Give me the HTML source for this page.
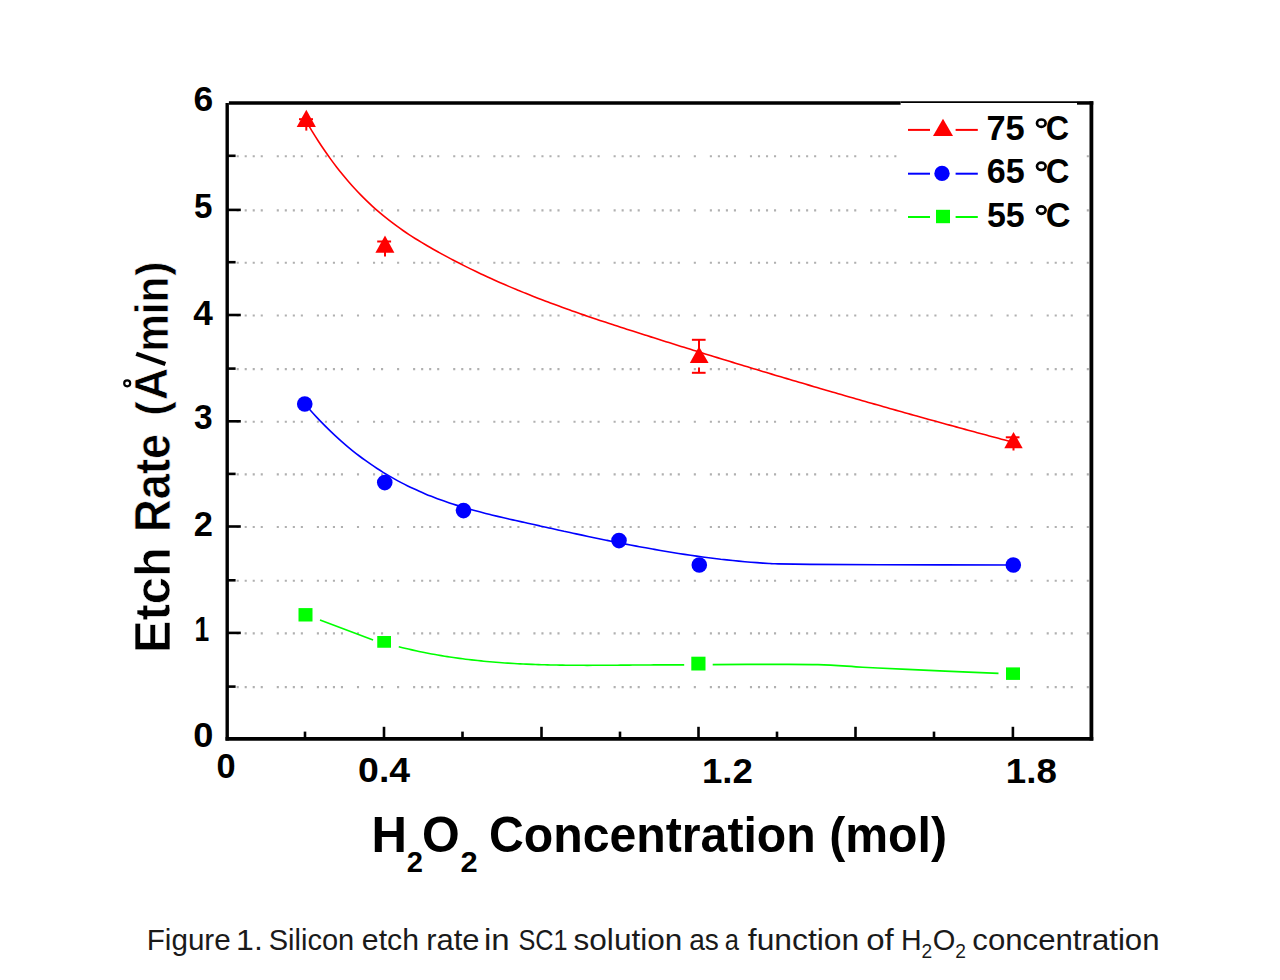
<!DOCTYPE html>
<html>
<head>
<meta charset="utf-8">
<style>
html,body{margin:0;padding:0;background:#fff;width:1280px;height:980px;overflow:hidden;}
svg{position:absolute;left:0;top:0;display:block;}
text{font-family:"Liberation Sans", sans-serif;}
</style>
</head>
<body>
<svg width="1280" height="980" viewBox="0 0 1280 980">

<path fill="#b0b0b0" d="M236.65 155.25h2.1v2.1h-2.1zM244.67 155.25h2.1v2.1h-2.1zM252.69 155.25h2.1v2.1h-2.1zM260.71 155.25h2.1v2.1h-2.1zM276.75 155.25h2.1v2.1h-2.1zM284.77 155.25h2.1v2.1h-2.1zM292.79 155.25h2.1v2.1h-2.1zM300.81 155.25h2.1v2.1h-2.1zM316.85 155.25h2.1v2.1h-2.1zM324.87 155.25h2.1v2.1h-2.1zM332.89 155.25h2.1v2.1h-2.1zM340.91 155.25h2.1v2.1h-2.1zM356.95 155.25h2.1v2.1h-2.1zM372.99 155.25h2.1v2.1h-2.1zM381.01 155.25h2.1v2.1h-2.1zM397.05 155.25h2.1v2.1h-2.1zM413.09 155.25h2.1v2.1h-2.1zM421.11 155.25h2.1v2.1h-2.1zM429.13 155.25h2.1v2.1h-2.1zM437.15 155.25h2.1v2.1h-2.1zM453.19 155.25h2.1v2.1h-2.1zM461.21 155.25h2.1v2.1h-2.1zM469.23 155.25h2.1v2.1h-2.1zM477.25 155.25h2.1v2.1h-2.1zM493.29 155.25h2.1v2.1h-2.1zM501.31 155.25h2.1v2.1h-2.1zM509.33 155.25h2.1v2.1h-2.1zM517.35 155.25h2.1v2.1h-2.1zM533.39 155.25h2.1v2.1h-2.1zM541.41 155.25h2.1v2.1h-2.1zM549.43 155.25h2.1v2.1h-2.1zM557.45 155.25h2.1v2.1h-2.1zM573.49 155.25h2.1v2.1h-2.1zM581.51 155.25h2.1v2.1h-2.1zM589.53 155.25h2.1v2.1h-2.1zM597.55 155.25h2.1v2.1h-2.1zM613.59 155.25h2.1v2.1h-2.1zM621.61 155.25h2.1v2.1h-2.1zM629.63 155.25h2.1v2.1h-2.1zM637.65 155.25h2.1v2.1h-2.1zM653.69 155.25h2.1v2.1h-2.1zM661.71 155.25h2.1v2.1h-2.1zM669.73 155.25h2.1v2.1h-2.1zM677.75 155.25h2.1v2.1h-2.1zM693.79 155.25h2.1v2.1h-2.1zM709.83 155.25h2.1v2.1h-2.1zM717.85 155.25h2.1v2.1h-2.1zM725.87 155.25h2.1v2.1h-2.1zM733.89 155.25h2.1v2.1h-2.1zM749.93 155.25h2.1v2.1h-2.1zM757.95 155.25h2.1v2.1h-2.1zM765.97 155.25h2.1v2.1h-2.1zM773.99 155.25h2.1v2.1h-2.1zM790.03 155.25h2.1v2.1h-2.1zM798.05 155.25h2.1v2.1h-2.1zM806.07 155.25h2.1v2.1h-2.1zM814.09 155.25h2.1v2.1h-2.1zM830.13 155.25h2.1v2.1h-2.1zM838.15 155.25h2.1v2.1h-2.1zM846.17 155.25h2.1v2.1h-2.1zM854.19 155.25h2.1v2.1h-2.1zM870.23 155.25h2.1v2.1h-2.1zM878.25 155.25h2.1v2.1h-2.1zM886.27 155.25h2.1v2.1h-2.1zM894.29 155.25h2.1v2.1h-2.1zM1086.77 155.25h2.1v2.1h-2.1zM236.65 209.35h2.1v2.1h-2.1zM244.67 209.35h2.1v2.1h-2.1zM252.69 209.35h2.1v2.1h-2.1zM260.71 209.35h2.1v2.1h-2.1zM276.75 209.35h2.1v2.1h-2.1zM284.77 209.35h2.1v2.1h-2.1zM292.79 209.35h2.1v2.1h-2.1zM300.81 209.35h2.1v2.1h-2.1zM316.85 209.35h2.1v2.1h-2.1zM324.87 209.35h2.1v2.1h-2.1zM332.89 209.35h2.1v2.1h-2.1zM340.91 209.35h2.1v2.1h-2.1zM356.95 209.35h2.1v2.1h-2.1zM372.99 209.35h2.1v2.1h-2.1zM381.01 209.35h2.1v2.1h-2.1zM397.05 209.35h2.1v2.1h-2.1zM413.09 209.35h2.1v2.1h-2.1zM421.11 209.35h2.1v2.1h-2.1zM429.13 209.35h2.1v2.1h-2.1zM437.15 209.35h2.1v2.1h-2.1zM453.19 209.35h2.1v2.1h-2.1zM461.21 209.35h2.1v2.1h-2.1zM469.23 209.35h2.1v2.1h-2.1zM477.25 209.35h2.1v2.1h-2.1zM493.29 209.35h2.1v2.1h-2.1zM501.31 209.35h2.1v2.1h-2.1zM509.33 209.35h2.1v2.1h-2.1zM517.35 209.35h2.1v2.1h-2.1zM533.39 209.35h2.1v2.1h-2.1zM541.41 209.35h2.1v2.1h-2.1zM549.43 209.35h2.1v2.1h-2.1zM557.45 209.35h2.1v2.1h-2.1zM573.49 209.35h2.1v2.1h-2.1zM581.51 209.35h2.1v2.1h-2.1zM589.53 209.35h2.1v2.1h-2.1zM597.55 209.35h2.1v2.1h-2.1zM613.59 209.35h2.1v2.1h-2.1zM621.61 209.35h2.1v2.1h-2.1zM629.63 209.35h2.1v2.1h-2.1zM637.65 209.35h2.1v2.1h-2.1zM653.69 209.35h2.1v2.1h-2.1zM661.71 209.35h2.1v2.1h-2.1zM669.73 209.35h2.1v2.1h-2.1zM677.75 209.35h2.1v2.1h-2.1zM693.79 209.35h2.1v2.1h-2.1zM709.83 209.35h2.1v2.1h-2.1zM717.85 209.35h2.1v2.1h-2.1zM725.87 209.35h2.1v2.1h-2.1zM733.89 209.35h2.1v2.1h-2.1zM749.93 209.35h2.1v2.1h-2.1zM757.95 209.35h2.1v2.1h-2.1zM765.97 209.35h2.1v2.1h-2.1zM773.99 209.35h2.1v2.1h-2.1zM790.03 209.35h2.1v2.1h-2.1zM798.05 209.35h2.1v2.1h-2.1zM806.07 209.35h2.1v2.1h-2.1zM814.09 209.35h2.1v2.1h-2.1zM830.13 209.35h2.1v2.1h-2.1zM838.15 209.35h2.1v2.1h-2.1zM846.17 209.35h2.1v2.1h-2.1zM854.19 209.35h2.1v2.1h-2.1zM870.23 209.35h2.1v2.1h-2.1zM878.25 209.35h2.1v2.1h-2.1zM886.27 209.35h2.1v2.1h-2.1zM894.29 209.35h2.1v2.1h-2.1zM1086.77 209.35h2.1v2.1h-2.1zM236.65 261.65h2.1v2.1h-2.1zM244.67 261.65h2.1v2.1h-2.1zM252.69 261.65h2.1v2.1h-2.1zM260.71 261.65h2.1v2.1h-2.1zM276.75 261.65h2.1v2.1h-2.1zM284.77 261.65h2.1v2.1h-2.1zM292.79 261.65h2.1v2.1h-2.1zM300.81 261.65h2.1v2.1h-2.1zM316.85 261.65h2.1v2.1h-2.1zM324.87 261.65h2.1v2.1h-2.1zM332.89 261.65h2.1v2.1h-2.1zM340.91 261.65h2.1v2.1h-2.1zM356.95 261.65h2.1v2.1h-2.1zM372.99 261.65h2.1v2.1h-2.1zM381.01 261.65h2.1v2.1h-2.1zM397.05 261.65h2.1v2.1h-2.1zM413.09 261.65h2.1v2.1h-2.1zM421.11 261.65h2.1v2.1h-2.1zM429.13 261.65h2.1v2.1h-2.1zM437.15 261.65h2.1v2.1h-2.1zM453.19 261.65h2.1v2.1h-2.1zM461.21 261.65h2.1v2.1h-2.1zM469.23 261.65h2.1v2.1h-2.1zM477.25 261.65h2.1v2.1h-2.1zM493.29 261.65h2.1v2.1h-2.1zM501.31 261.65h2.1v2.1h-2.1zM509.33 261.65h2.1v2.1h-2.1zM517.35 261.65h2.1v2.1h-2.1zM533.39 261.65h2.1v2.1h-2.1zM541.41 261.65h2.1v2.1h-2.1zM549.43 261.65h2.1v2.1h-2.1zM557.45 261.65h2.1v2.1h-2.1zM573.49 261.65h2.1v2.1h-2.1zM581.51 261.65h2.1v2.1h-2.1zM589.53 261.65h2.1v2.1h-2.1zM597.55 261.65h2.1v2.1h-2.1zM613.59 261.65h2.1v2.1h-2.1zM621.61 261.65h2.1v2.1h-2.1zM629.63 261.65h2.1v2.1h-2.1zM637.65 261.65h2.1v2.1h-2.1zM653.69 261.65h2.1v2.1h-2.1zM661.71 261.65h2.1v2.1h-2.1zM669.73 261.65h2.1v2.1h-2.1zM677.75 261.65h2.1v2.1h-2.1zM693.79 261.65h2.1v2.1h-2.1zM709.83 261.65h2.1v2.1h-2.1zM717.85 261.65h2.1v2.1h-2.1zM725.87 261.65h2.1v2.1h-2.1zM733.89 261.65h2.1v2.1h-2.1zM749.93 261.65h2.1v2.1h-2.1zM757.95 261.65h2.1v2.1h-2.1zM765.97 261.65h2.1v2.1h-2.1zM773.99 261.65h2.1v2.1h-2.1zM790.03 261.65h2.1v2.1h-2.1zM798.05 261.65h2.1v2.1h-2.1zM806.07 261.65h2.1v2.1h-2.1zM814.09 261.65h2.1v2.1h-2.1zM830.13 261.65h2.1v2.1h-2.1zM838.15 261.65h2.1v2.1h-2.1zM846.17 261.65h2.1v2.1h-2.1zM854.19 261.65h2.1v2.1h-2.1zM870.23 261.65h2.1v2.1h-2.1zM878.25 261.65h2.1v2.1h-2.1zM886.27 261.65h2.1v2.1h-2.1zM894.29 261.65h2.1v2.1h-2.1zM910.33 261.65h2.1v2.1h-2.1zM918.35 261.65h2.1v2.1h-2.1zM926.37 261.65h2.1v2.1h-2.1zM934.39 261.65h2.1v2.1h-2.1zM950.43 261.65h2.1v2.1h-2.1zM958.45 261.65h2.1v2.1h-2.1zM966.47 261.65h2.1v2.1h-2.1zM974.49 261.65h2.1v2.1h-2.1zM990.53 261.65h2.1v2.1h-2.1zM1006.57 261.65h2.1v2.1h-2.1zM1014.59 261.65h2.1v2.1h-2.1zM1030.63 261.65h2.1v2.1h-2.1zM1046.67 261.65h2.1v2.1h-2.1zM1054.69 261.65h2.1v2.1h-2.1zM1062.71 261.65h2.1v2.1h-2.1zM1070.73 261.65h2.1v2.1h-2.1zM1086.77 261.65h2.1v2.1h-2.1zM236.65 314.45h2.1v2.1h-2.1zM244.67 314.45h2.1v2.1h-2.1zM252.69 314.45h2.1v2.1h-2.1zM260.71 314.45h2.1v2.1h-2.1zM276.75 314.45h2.1v2.1h-2.1zM284.77 314.45h2.1v2.1h-2.1zM292.79 314.45h2.1v2.1h-2.1zM300.81 314.45h2.1v2.1h-2.1zM316.85 314.45h2.1v2.1h-2.1zM324.87 314.45h2.1v2.1h-2.1zM332.89 314.45h2.1v2.1h-2.1zM340.91 314.45h2.1v2.1h-2.1zM356.95 314.45h2.1v2.1h-2.1zM372.99 314.45h2.1v2.1h-2.1zM381.01 314.45h2.1v2.1h-2.1zM397.05 314.45h2.1v2.1h-2.1zM413.09 314.45h2.1v2.1h-2.1zM421.11 314.45h2.1v2.1h-2.1zM429.13 314.45h2.1v2.1h-2.1zM437.15 314.45h2.1v2.1h-2.1zM453.19 314.45h2.1v2.1h-2.1zM461.21 314.45h2.1v2.1h-2.1zM469.23 314.45h2.1v2.1h-2.1zM477.25 314.45h2.1v2.1h-2.1zM493.29 314.45h2.1v2.1h-2.1zM501.31 314.45h2.1v2.1h-2.1zM509.33 314.45h2.1v2.1h-2.1zM517.35 314.45h2.1v2.1h-2.1zM533.39 314.45h2.1v2.1h-2.1zM541.41 314.45h2.1v2.1h-2.1zM549.43 314.45h2.1v2.1h-2.1zM557.45 314.45h2.1v2.1h-2.1zM573.49 314.45h2.1v2.1h-2.1zM581.51 314.45h2.1v2.1h-2.1zM589.53 314.45h2.1v2.1h-2.1zM597.55 314.45h2.1v2.1h-2.1zM613.59 314.45h2.1v2.1h-2.1zM621.61 314.45h2.1v2.1h-2.1zM629.63 314.45h2.1v2.1h-2.1zM637.65 314.45h2.1v2.1h-2.1zM653.69 314.45h2.1v2.1h-2.1zM661.71 314.45h2.1v2.1h-2.1zM669.73 314.45h2.1v2.1h-2.1zM677.75 314.45h2.1v2.1h-2.1zM693.79 314.45h2.1v2.1h-2.1zM709.83 314.45h2.1v2.1h-2.1zM717.85 314.45h2.1v2.1h-2.1zM725.87 314.45h2.1v2.1h-2.1zM733.89 314.45h2.1v2.1h-2.1zM749.93 314.45h2.1v2.1h-2.1zM757.95 314.45h2.1v2.1h-2.1zM765.97 314.45h2.1v2.1h-2.1zM773.99 314.45h2.1v2.1h-2.1zM790.03 314.45h2.1v2.1h-2.1zM798.05 314.45h2.1v2.1h-2.1zM806.07 314.45h2.1v2.1h-2.1zM814.09 314.45h2.1v2.1h-2.1zM830.13 314.45h2.1v2.1h-2.1zM838.15 314.45h2.1v2.1h-2.1zM846.17 314.45h2.1v2.1h-2.1zM854.19 314.45h2.1v2.1h-2.1zM870.23 314.45h2.1v2.1h-2.1zM878.25 314.45h2.1v2.1h-2.1zM886.27 314.45h2.1v2.1h-2.1zM894.29 314.45h2.1v2.1h-2.1zM910.33 314.45h2.1v2.1h-2.1zM918.35 314.45h2.1v2.1h-2.1zM926.37 314.45h2.1v2.1h-2.1zM934.39 314.45h2.1v2.1h-2.1zM950.43 314.45h2.1v2.1h-2.1zM958.45 314.45h2.1v2.1h-2.1zM966.47 314.45h2.1v2.1h-2.1zM974.49 314.45h2.1v2.1h-2.1zM990.53 314.45h2.1v2.1h-2.1zM1006.57 314.45h2.1v2.1h-2.1zM1014.59 314.45h2.1v2.1h-2.1zM1030.63 314.45h2.1v2.1h-2.1zM1046.67 314.45h2.1v2.1h-2.1zM1054.69 314.45h2.1v2.1h-2.1zM1062.71 314.45h2.1v2.1h-2.1zM1070.73 314.45h2.1v2.1h-2.1zM1086.77 314.45h2.1v2.1h-2.1zM236.65 368.05h2.1v2.1h-2.1zM244.67 368.05h2.1v2.1h-2.1zM252.69 368.05h2.1v2.1h-2.1zM260.71 368.05h2.1v2.1h-2.1zM276.75 368.05h2.1v2.1h-2.1zM284.77 368.05h2.1v2.1h-2.1zM292.79 368.05h2.1v2.1h-2.1zM300.81 368.05h2.1v2.1h-2.1zM316.85 368.05h2.1v2.1h-2.1zM324.87 368.05h2.1v2.1h-2.1zM332.89 368.05h2.1v2.1h-2.1zM340.91 368.05h2.1v2.1h-2.1zM356.95 368.05h2.1v2.1h-2.1zM372.99 368.05h2.1v2.1h-2.1zM381.01 368.05h2.1v2.1h-2.1zM397.05 368.05h2.1v2.1h-2.1zM413.09 368.05h2.1v2.1h-2.1zM421.11 368.05h2.1v2.1h-2.1zM429.13 368.05h2.1v2.1h-2.1zM437.15 368.05h2.1v2.1h-2.1zM453.19 368.05h2.1v2.1h-2.1zM461.21 368.05h2.1v2.1h-2.1zM469.23 368.05h2.1v2.1h-2.1zM477.25 368.05h2.1v2.1h-2.1zM493.29 368.05h2.1v2.1h-2.1zM501.31 368.05h2.1v2.1h-2.1zM509.33 368.05h2.1v2.1h-2.1zM517.35 368.05h2.1v2.1h-2.1zM533.39 368.05h2.1v2.1h-2.1zM541.41 368.05h2.1v2.1h-2.1zM549.43 368.05h2.1v2.1h-2.1zM557.45 368.05h2.1v2.1h-2.1zM573.49 368.05h2.1v2.1h-2.1zM581.51 368.05h2.1v2.1h-2.1zM589.53 368.05h2.1v2.1h-2.1zM597.55 368.05h2.1v2.1h-2.1zM613.59 368.05h2.1v2.1h-2.1zM621.61 368.05h2.1v2.1h-2.1zM629.63 368.05h2.1v2.1h-2.1zM637.65 368.05h2.1v2.1h-2.1zM653.69 368.05h2.1v2.1h-2.1zM661.71 368.05h2.1v2.1h-2.1zM669.73 368.05h2.1v2.1h-2.1zM677.75 368.05h2.1v2.1h-2.1zM693.79 368.05h2.1v2.1h-2.1zM709.83 368.05h2.1v2.1h-2.1zM717.85 368.05h2.1v2.1h-2.1zM725.87 368.05h2.1v2.1h-2.1zM733.89 368.05h2.1v2.1h-2.1zM749.93 368.05h2.1v2.1h-2.1zM757.95 368.05h2.1v2.1h-2.1zM765.97 368.05h2.1v2.1h-2.1zM773.99 368.05h2.1v2.1h-2.1zM790.03 368.05h2.1v2.1h-2.1zM798.05 368.05h2.1v2.1h-2.1zM806.07 368.05h2.1v2.1h-2.1zM814.09 368.05h2.1v2.1h-2.1zM830.13 368.05h2.1v2.1h-2.1zM838.15 368.05h2.1v2.1h-2.1zM846.17 368.05h2.1v2.1h-2.1zM854.19 368.05h2.1v2.1h-2.1zM870.23 368.05h2.1v2.1h-2.1zM878.25 368.05h2.1v2.1h-2.1zM886.27 368.05h2.1v2.1h-2.1zM894.29 368.05h2.1v2.1h-2.1zM910.33 368.05h2.1v2.1h-2.1zM918.35 368.05h2.1v2.1h-2.1zM926.37 368.05h2.1v2.1h-2.1zM934.39 368.05h2.1v2.1h-2.1zM950.43 368.05h2.1v2.1h-2.1zM958.45 368.05h2.1v2.1h-2.1zM966.47 368.05h2.1v2.1h-2.1zM974.49 368.05h2.1v2.1h-2.1zM990.53 368.05h2.1v2.1h-2.1zM1006.57 368.05h2.1v2.1h-2.1zM1014.59 368.05h2.1v2.1h-2.1zM1030.63 368.05h2.1v2.1h-2.1zM1046.67 368.05h2.1v2.1h-2.1zM1054.69 368.05h2.1v2.1h-2.1zM1062.71 368.05h2.1v2.1h-2.1zM1070.73 368.05h2.1v2.1h-2.1zM1086.77 368.05h2.1v2.1h-2.1zM236.65 420.75h2.1v2.1h-2.1zM244.67 420.75h2.1v2.1h-2.1zM252.69 420.75h2.1v2.1h-2.1zM260.71 420.75h2.1v2.1h-2.1zM276.75 420.75h2.1v2.1h-2.1zM284.77 420.75h2.1v2.1h-2.1zM292.79 420.75h2.1v2.1h-2.1zM300.81 420.75h2.1v2.1h-2.1zM316.85 420.75h2.1v2.1h-2.1zM324.87 420.75h2.1v2.1h-2.1zM332.89 420.75h2.1v2.1h-2.1zM340.91 420.75h2.1v2.1h-2.1zM356.95 420.75h2.1v2.1h-2.1zM372.99 420.75h2.1v2.1h-2.1zM381.01 420.75h2.1v2.1h-2.1zM397.05 420.75h2.1v2.1h-2.1zM413.09 420.75h2.1v2.1h-2.1zM421.11 420.75h2.1v2.1h-2.1zM429.13 420.75h2.1v2.1h-2.1zM437.15 420.75h2.1v2.1h-2.1zM453.19 420.75h2.1v2.1h-2.1zM461.21 420.75h2.1v2.1h-2.1zM469.23 420.75h2.1v2.1h-2.1zM477.25 420.75h2.1v2.1h-2.1zM493.29 420.75h2.1v2.1h-2.1zM501.31 420.75h2.1v2.1h-2.1zM509.33 420.75h2.1v2.1h-2.1zM517.35 420.75h2.1v2.1h-2.1zM533.39 420.75h2.1v2.1h-2.1zM541.41 420.75h2.1v2.1h-2.1zM549.43 420.75h2.1v2.1h-2.1zM557.45 420.75h2.1v2.1h-2.1zM573.49 420.75h2.1v2.1h-2.1zM581.51 420.75h2.1v2.1h-2.1zM589.53 420.75h2.1v2.1h-2.1zM597.55 420.75h2.1v2.1h-2.1zM613.59 420.75h2.1v2.1h-2.1zM621.61 420.75h2.1v2.1h-2.1zM629.63 420.75h2.1v2.1h-2.1zM637.65 420.75h2.1v2.1h-2.1zM653.69 420.75h2.1v2.1h-2.1zM661.71 420.75h2.1v2.1h-2.1zM669.73 420.75h2.1v2.1h-2.1zM677.75 420.75h2.1v2.1h-2.1zM693.79 420.75h2.1v2.1h-2.1zM709.83 420.75h2.1v2.1h-2.1zM717.85 420.75h2.1v2.1h-2.1zM725.87 420.75h2.1v2.1h-2.1zM733.89 420.75h2.1v2.1h-2.1zM749.93 420.75h2.1v2.1h-2.1zM757.95 420.75h2.1v2.1h-2.1zM765.97 420.75h2.1v2.1h-2.1zM773.99 420.75h2.1v2.1h-2.1zM790.03 420.75h2.1v2.1h-2.1zM798.05 420.75h2.1v2.1h-2.1zM806.07 420.75h2.1v2.1h-2.1zM814.09 420.75h2.1v2.1h-2.1zM830.13 420.75h2.1v2.1h-2.1zM838.15 420.75h2.1v2.1h-2.1zM846.17 420.75h2.1v2.1h-2.1zM854.19 420.75h2.1v2.1h-2.1zM870.23 420.75h2.1v2.1h-2.1zM878.25 420.75h2.1v2.1h-2.1zM886.27 420.75h2.1v2.1h-2.1zM894.29 420.75h2.1v2.1h-2.1zM910.33 420.75h2.1v2.1h-2.1zM918.35 420.75h2.1v2.1h-2.1zM926.37 420.75h2.1v2.1h-2.1zM934.39 420.75h2.1v2.1h-2.1zM950.43 420.75h2.1v2.1h-2.1zM958.45 420.75h2.1v2.1h-2.1zM966.47 420.75h2.1v2.1h-2.1zM974.49 420.75h2.1v2.1h-2.1zM990.53 420.75h2.1v2.1h-2.1zM1006.57 420.75h2.1v2.1h-2.1zM1014.59 420.75h2.1v2.1h-2.1zM1030.63 420.75h2.1v2.1h-2.1zM1046.67 420.75h2.1v2.1h-2.1zM1054.69 420.75h2.1v2.1h-2.1zM1062.71 420.75h2.1v2.1h-2.1zM1070.73 420.75h2.1v2.1h-2.1zM1086.77 420.75h2.1v2.1h-2.1zM236.65 473.35h2.1v2.1h-2.1zM244.67 473.35h2.1v2.1h-2.1zM252.69 473.35h2.1v2.1h-2.1zM260.71 473.35h2.1v2.1h-2.1zM276.75 473.35h2.1v2.1h-2.1zM284.77 473.35h2.1v2.1h-2.1zM292.79 473.35h2.1v2.1h-2.1zM300.81 473.35h2.1v2.1h-2.1zM316.85 473.35h2.1v2.1h-2.1zM324.87 473.35h2.1v2.1h-2.1zM332.89 473.35h2.1v2.1h-2.1zM340.91 473.35h2.1v2.1h-2.1zM356.95 473.35h2.1v2.1h-2.1zM372.99 473.35h2.1v2.1h-2.1zM381.01 473.35h2.1v2.1h-2.1zM397.05 473.35h2.1v2.1h-2.1zM413.09 473.35h2.1v2.1h-2.1zM421.11 473.35h2.1v2.1h-2.1zM429.13 473.35h2.1v2.1h-2.1zM437.15 473.35h2.1v2.1h-2.1zM453.19 473.35h2.1v2.1h-2.1zM461.21 473.35h2.1v2.1h-2.1zM469.23 473.35h2.1v2.1h-2.1zM477.25 473.35h2.1v2.1h-2.1zM493.29 473.35h2.1v2.1h-2.1zM501.31 473.35h2.1v2.1h-2.1zM509.33 473.35h2.1v2.1h-2.1zM517.35 473.35h2.1v2.1h-2.1zM533.39 473.35h2.1v2.1h-2.1zM541.41 473.35h2.1v2.1h-2.1zM549.43 473.35h2.1v2.1h-2.1zM557.45 473.35h2.1v2.1h-2.1zM573.49 473.35h2.1v2.1h-2.1zM581.51 473.35h2.1v2.1h-2.1zM589.53 473.35h2.1v2.1h-2.1zM597.55 473.35h2.1v2.1h-2.1zM613.59 473.35h2.1v2.1h-2.1zM621.61 473.35h2.1v2.1h-2.1zM629.63 473.35h2.1v2.1h-2.1zM637.65 473.35h2.1v2.1h-2.1zM653.69 473.35h2.1v2.1h-2.1zM661.71 473.35h2.1v2.1h-2.1zM669.73 473.35h2.1v2.1h-2.1zM677.75 473.35h2.1v2.1h-2.1zM693.79 473.35h2.1v2.1h-2.1zM709.83 473.35h2.1v2.1h-2.1zM717.85 473.35h2.1v2.1h-2.1zM725.87 473.35h2.1v2.1h-2.1zM733.89 473.35h2.1v2.1h-2.1zM749.93 473.35h2.1v2.1h-2.1zM757.95 473.35h2.1v2.1h-2.1zM765.97 473.35h2.1v2.1h-2.1zM773.99 473.35h2.1v2.1h-2.1zM790.03 473.35h2.1v2.1h-2.1zM798.05 473.35h2.1v2.1h-2.1zM806.07 473.35h2.1v2.1h-2.1zM814.09 473.35h2.1v2.1h-2.1zM830.13 473.35h2.1v2.1h-2.1zM838.15 473.35h2.1v2.1h-2.1zM846.17 473.35h2.1v2.1h-2.1zM854.19 473.35h2.1v2.1h-2.1zM870.23 473.35h2.1v2.1h-2.1zM878.25 473.35h2.1v2.1h-2.1zM886.27 473.35h2.1v2.1h-2.1zM894.29 473.35h2.1v2.1h-2.1zM910.33 473.35h2.1v2.1h-2.1zM918.35 473.35h2.1v2.1h-2.1zM926.37 473.35h2.1v2.1h-2.1zM934.39 473.35h2.1v2.1h-2.1zM950.43 473.35h2.1v2.1h-2.1zM958.45 473.35h2.1v2.1h-2.1zM966.47 473.35h2.1v2.1h-2.1zM974.49 473.35h2.1v2.1h-2.1zM990.53 473.35h2.1v2.1h-2.1zM1006.57 473.35h2.1v2.1h-2.1zM1014.59 473.35h2.1v2.1h-2.1zM1030.63 473.35h2.1v2.1h-2.1zM1046.67 473.35h2.1v2.1h-2.1zM1054.69 473.35h2.1v2.1h-2.1zM1062.71 473.35h2.1v2.1h-2.1zM1070.73 473.35h2.1v2.1h-2.1zM1086.77 473.35h2.1v2.1h-2.1zM236.65 525.95h2.1v2.1h-2.1zM244.67 525.95h2.1v2.1h-2.1zM252.69 525.95h2.1v2.1h-2.1zM260.71 525.95h2.1v2.1h-2.1zM276.75 525.95h2.1v2.1h-2.1zM284.77 525.95h2.1v2.1h-2.1zM292.79 525.95h2.1v2.1h-2.1zM300.81 525.95h2.1v2.1h-2.1zM316.85 525.95h2.1v2.1h-2.1zM324.87 525.95h2.1v2.1h-2.1zM332.89 525.95h2.1v2.1h-2.1zM340.91 525.95h2.1v2.1h-2.1zM356.95 525.95h2.1v2.1h-2.1zM372.99 525.95h2.1v2.1h-2.1zM381.01 525.95h2.1v2.1h-2.1zM397.05 525.95h2.1v2.1h-2.1zM413.09 525.95h2.1v2.1h-2.1zM421.11 525.95h2.1v2.1h-2.1zM429.13 525.95h2.1v2.1h-2.1zM437.15 525.95h2.1v2.1h-2.1zM453.19 525.95h2.1v2.1h-2.1zM461.21 525.95h2.1v2.1h-2.1zM469.23 525.95h2.1v2.1h-2.1zM477.25 525.95h2.1v2.1h-2.1zM493.29 525.95h2.1v2.1h-2.1zM501.31 525.95h2.1v2.1h-2.1zM509.33 525.95h2.1v2.1h-2.1zM517.35 525.95h2.1v2.1h-2.1zM533.39 525.95h2.1v2.1h-2.1zM541.41 525.95h2.1v2.1h-2.1zM549.43 525.95h2.1v2.1h-2.1zM557.45 525.95h2.1v2.1h-2.1zM573.49 525.95h2.1v2.1h-2.1zM581.51 525.95h2.1v2.1h-2.1zM589.53 525.95h2.1v2.1h-2.1zM597.55 525.95h2.1v2.1h-2.1zM613.59 525.95h2.1v2.1h-2.1zM621.61 525.95h2.1v2.1h-2.1zM629.63 525.95h2.1v2.1h-2.1zM637.65 525.95h2.1v2.1h-2.1zM653.69 525.95h2.1v2.1h-2.1zM661.71 525.95h2.1v2.1h-2.1zM669.73 525.95h2.1v2.1h-2.1zM677.75 525.95h2.1v2.1h-2.1zM693.79 525.95h2.1v2.1h-2.1zM709.83 525.95h2.1v2.1h-2.1zM717.85 525.95h2.1v2.1h-2.1zM725.87 525.95h2.1v2.1h-2.1zM733.89 525.95h2.1v2.1h-2.1zM749.93 525.95h2.1v2.1h-2.1zM757.95 525.95h2.1v2.1h-2.1zM765.97 525.95h2.1v2.1h-2.1zM773.99 525.95h2.1v2.1h-2.1zM790.03 525.95h2.1v2.1h-2.1zM798.05 525.95h2.1v2.1h-2.1zM806.07 525.95h2.1v2.1h-2.1zM814.09 525.95h2.1v2.1h-2.1zM830.13 525.95h2.1v2.1h-2.1zM838.15 525.95h2.1v2.1h-2.1zM846.17 525.95h2.1v2.1h-2.1zM854.19 525.95h2.1v2.1h-2.1zM870.23 525.95h2.1v2.1h-2.1zM878.25 525.95h2.1v2.1h-2.1zM886.27 525.95h2.1v2.1h-2.1zM894.29 525.95h2.1v2.1h-2.1zM910.33 525.95h2.1v2.1h-2.1zM918.35 525.95h2.1v2.1h-2.1zM926.37 525.95h2.1v2.1h-2.1zM934.39 525.95h2.1v2.1h-2.1zM950.43 525.95h2.1v2.1h-2.1zM958.45 525.95h2.1v2.1h-2.1zM966.47 525.95h2.1v2.1h-2.1zM974.49 525.95h2.1v2.1h-2.1zM990.53 525.95h2.1v2.1h-2.1zM1006.57 525.95h2.1v2.1h-2.1zM1014.59 525.95h2.1v2.1h-2.1zM1030.63 525.95h2.1v2.1h-2.1zM1046.67 525.95h2.1v2.1h-2.1zM1054.69 525.95h2.1v2.1h-2.1zM1062.71 525.95h2.1v2.1h-2.1zM1070.73 525.95h2.1v2.1h-2.1zM1086.77 525.95h2.1v2.1h-2.1zM236.65 579.75h2.1v2.1h-2.1zM244.67 579.75h2.1v2.1h-2.1zM252.69 579.75h2.1v2.1h-2.1zM260.71 579.75h2.1v2.1h-2.1zM276.75 579.75h2.1v2.1h-2.1zM284.77 579.75h2.1v2.1h-2.1zM292.79 579.75h2.1v2.1h-2.1zM300.81 579.75h2.1v2.1h-2.1zM316.85 579.75h2.1v2.1h-2.1zM324.87 579.75h2.1v2.1h-2.1zM332.89 579.75h2.1v2.1h-2.1zM340.91 579.75h2.1v2.1h-2.1zM356.95 579.75h2.1v2.1h-2.1zM372.99 579.75h2.1v2.1h-2.1zM381.01 579.75h2.1v2.1h-2.1zM397.05 579.75h2.1v2.1h-2.1zM413.09 579.75h2.1v2.1h-2.1zM421.11 579.75h2.1v2.1h-2.1zM429.13 579.75h2.1v2.1h-2.1zM437.15 579.75h2.1v2.1h-2.1zM453.19 579.75h2.1v2.1h-2.1zM461.21 579.75h2.1v2.1h-2.1zM469.23 579.75h2.1v2.1h-2.1zM477.25 579.75h2.1v2.1h-2.1zM493.29 579.75h2.1v2.1h-2.1zM501.31 579.75h2.1v2.1h-2.1zM509.33 579.75h2.1v2.1h-2.1zM517.35 579.75h2.1v2.1h-2.1zM533.39 579.75h2.1v2.1h-2.1zM541.41 579.75h2.1v2.1h-2.1zM549.43 579.75h2.1v2.1h-2.1zM557.45 579.75h2.1v2.1h-2.1zM573.49 579.75h2.1v2.1h-2.1zM581.51 579.75h2.1v2.1h-2.1zM589.53 579.75h2.1v2.1h-2.1zM597.55 579.75h2.1v2.1h-2.1zM613.59 579.75h2.1v2.1h-2.1zM621.61 579.75h2.1v2.1h-2.1zM629.63 579.75h2.1v2.1h-2.1zM637.65 579.75h2.1v2.1h-2.1zM653.69 579.75h2.1v2.1h-2.1zM661.71 579.75h2.1v2.1h-2.1zM669.73 579.75h2.1v2.1h-2.1zM677.75 579.75h2.1v2.1h-2.1zM693.79 579.75h2.1v2.1h-2.1zM709.83 579.75h2.1v2.1h-2.1zM717.85 579.75h2.1v2.1h-2.1zM725.87 579.75h2.1v2.1h-2.1zM733.89 579.75h2.1v2.1h-2.1zM749.93 579.75h2.1v2.1h-2.1zM757.95 579.75h2.1v2.1h-2.1zM765.97 579.75h2.1v2.1h-2.1zM773.99 579.75h2.1v2.1h-2.1zM790.03 579.75h2.1v2.1h-2.1zM798.05 579.75h2.1v2.1h-2.1zM806.07 579.75h2.1v2.1h-2.1zM814.09 579.75h2.1v2.1h-2.1zM830.13 579.75h2.1v2.1h-2.1zM838.15 579.75h2.1v2.1h-2.1zM846.17 579.75h2.1v2.1h-2.1zM854.19 579.75h2.1v2.1h-2.1zM870.23 579.75h2.1v2.1h-2.1zM878.25 579.75h2.1v2.1h-2.1zM886.27 579.75h2.1v2.1h-2.1zM894.29 579.75h2.1v2.1h-2.1zM910.33 579.75h2.1v2.1h-2.1zM918.35 579.75h2.1v2.1h-2.1zM926.37 579.75h2.1v2.1h-2.1zM934.39 579.75h2.1v2.1h-2.1zM950.43 579.75h2.1v2.1h-2.1zM958.45 579.75h2.1v2.1h-2.1zM966.47 579.75h2.1v2.1h-2.1zM974.49 579.75h2.1v2.1h-2.1zM990.53 579.75h2.1v2.1h-2.1zM1006.57 579.75h2.1v2.1h-2.1zM1014.59 579.75h2.1v2.1h-2.1zM1030.63 579.75h2.1v2.1h-2.1zM1046.67 579.75h2.1v2.1h-2.1zM1054.69 579.75h2.1v2.1h-2.1zM1062.71 579.75h2.1v2.1h-2.1zM1070.73 579.75h2.1v2.1h-2.1zM1086.77 579.75h2.1v2.1h-2.1zM236.65 632.35h2.1v2.1h-2.1zM244.67 632.35h2.1v2.1h-2.1zM252.69 632.35h2.1v2.1h-2.1zM260.71 632.35h2.1v2.1h-2.1zM276.75 632.35h2.1v2.1h-2.1zM284.77 632.35h2.1v2.1h-2.1zM292.79 632.35h2.1v2.1h-2.1zM300.81 632.35h2.1v2.1h-2.1zM316.85 632.35h2.1v2.1h-2.1zM324.87 632.35h2.1v2.1h-2.1zM332.89 632.35h2.1v2.1h-2.1zM340.91 632.35h2.1v2.1h-2.1zM356.95 632.35h2.1v2.1h-2.1zM372.99 632.35h2.1v2.1h-2.1zM381.01 632.35h2.1v2.1h-2.1zM397.05 632.35h2.1v2.1h-2.1zM413.09 632.35h2.1v2.1h-2.1zM421.11 632.35h2.1v2.1h-2.1zM429.13 632.35h2.1v2.1h-2.1zM437.15 632.35h2.1v2.1h-2.1zM453.19 632.35h2.1v2.1h-2.1zM461.21 632.35h2.1v2.1h-2.1zM469.23 632.35h2.1v2.1h-2.1zM477.25 632.35h2.1v2.1h-2.1zM493.29 632.35h2.1v2.1h-2.1zM501.31 632.35h2.1v2.1h-2.1zM509.33 632.35h2.1v2.1h-2.1zM517.35 632.35h2.1v2.1h-2.1zM533.39 632.35h2.1v2.1h-2.1zM541.41 632.35h2.1v2.1h-2.1zM549.43 632.35h2.1v2.1h-2.1zM557.45 632.35h2.1v2.1h-2.1zM573.49 632.35h2.1v2.1h-2.1zM581.51 632.35h2.1v2.1h-2.1zM589.53 632.35h2.1v2.1h-2.1zM597.55 632.35h2.1v2.1h-2.1zM613.59 632.35h2.1v2.1h-2.1zM621.61 632.35h2.1v2.1h-2.1zM629.63 632.35h2.1v2.1h-2.1zM637.65 632.35h2.1v2.1h-2.1zM653.69 632.35h2.1v2.1h-2.1zM661.71 632.35h2.1v2.1h-2.1zM669.73 632.35h2.1v2.1h-2.1zM677.75 632.35h2.1v2.1h-2.1zM693.79 632.35h2.1v2.1h-2.1zM709.83 632.35h2.1v2.1h-2.1zM717.85 632.35h2.1v2.1h-2.1zM725.87 632.35h2.1v2.1h-2.1zM733.89 632.35h2.1v2.1h-2.1zM749.93 632.35h2.1v2.1h-2.1zM757.95 632.35h2.1v2.1h-2.1zM765.97 632.35h2.1v2.1h-2.1zM773.99 632.35h2.1v2.1h-2.1zM790.03 632.35h2.1v2.1h-2.1zM798.05 632.35h2.1v2.1h-2.1zM806.07 632.35h2.1v2.1h-2.1zM814.09 632.35h2.1v2.1h-2.1zM830.13 632.35h2.1v2.1h-2.1zM838.15 632.35h2.1v2.1h-2.1zM846.17 632.35h2.1v2.1h-2.1zM854.19 632.35h2.1v2.1h-2.1zM870.23 632.35h2.1v2.1h-2.1zM878.25 632.35h2.1v2.1h-2.1zM886.27 632.35h2.1v2.1h-2.1zM894.29 632.35h2.1v2.1h-2.1zM910.33 632.35h2.1v2.1h-2.1zM918.35 632.35h2.1v2.1h-2.1zM926.37 632.35h2.1v2.1h-2.1zM934.39 632.35h2.1v2.1h-2.1zM950.43 632.35h2.1v2.1h-2.1zM958.45 632.35h2.1v2.1h-2.1zM966.47 632.35h2.1v2.1h-2.1zM974.49 632.35h2.1v2.1h-2.1zM990.53 632.35h2.1v2.1h-2.1zM1006.57 632.35h2.1v2.1h-2.1zM1014.59 632.35h2.1v2.1h-2.1zM1030.63 632.35h2.1v2.1h-2.1zM1046.67 632.35h2.1v2.1h-2.1zM1054.69 632.35h2.1v2.1h-2.1zM1062.71 632.35h2.1v2.1h-2.1zM1070.73 632.35h2.1v2.1h-2.1zM1086.77 632.35h2.1v2.1h-2.1zM236.65 686.05h2.1v2.1h-2.1zM244.67 686.05h2.1v2.1h-2.1zM252.69 686.05h2.1v2.1h-2.1zM260.71 686.05h2.1v2.1h-2.1zM276.75 686.05h2.1v2.1h-2.1zM284.77 686.05h2.1v2.1h-2.1zM292.79 686.05h2.1v2.1h-2.1zM300.81 686.05h2.1v2.1h-2.1zM316.85 686.05h2.1v2.1h-2.1zM324.87 686.05h2.1v2.1h-2.1zM332.89 686.05h2.1v2.1h-2.1zM340.91 686.05h2.1v2.1h-2.1zM356.95 686.05h2.1v2.1h-2.1zM372.99 686.05h2.1v2.1h-2.1zM381.01 686.05h2.1v2.1h-2.1zM397.05 686.05h2.1v2.1h-2.1zM413.09 686.05h2.1v2.1h-2.1zM421.11 686.05h2.1v2.1h-2.1zM429.13 686.05h2.1v2.1h-2.1zM437.15 686.05h2.1v2.1h-2.1zM453.19 686.05h2.1v2.1h-2.1zM461.21 686.05h2.1v2.1h-2.1zM469.23 686.05h2.1v2.1h-2.1zM477.25 686.05h2.1v2.1h-2.1zM493.29 686.05h2.1v2.1h-2.1zM501.31 686.05h2.1v2.1h-2.1zM509.33 686.05h2.1v2.1h-2.1zM517.35 686.05h2.1v2.1h-2.1zM533.39 686.05h2.1v2.1h-2.1zM541.41 686.05h2.1v2.1h-2.1zM549.43 686.05h2.1v2.1h-2.1zM557.45 686.05h2.1v2.1h-2.1zM573.49 686.05h2.1v2.1h-2.1zM581.51 686.05h2.1v2.1h-2.1zM589.53 686.05h2.1v2.1h-2.1zM597.55 686.05h2.1v2.1h-2.1zM613.59 686.05h2.1v2.1h-2.1zM621.61 686.05h2.1v2.1h-2.1zM629.63 686.05h2.1v2.1h-2.1zM637.65 686.05h2.1v2.1h-2.1zM653.69 686.05h2.1v2.1h-2.1zM661.71 686.05h2.1v2.1h-2.1zM669.73 686.05h2.1v2.1h-2.1zM677.75 686.05h2.1v2.1h-2.1zM693.79 686.05h2.1v2.1h-2.1zM709.83 686.05h2.1v2.1h-2.1zM717.85 686.05h2.1v2.1h-2.1zM725.87 686.05h2.1v2.1h-2.1zM733.89 686.05h2.1v2.1h-2.1zM749.93 686.05h2.1v2.1h-2.1zM757.95 686.05h2.1v2.1h-2.1zM765.97 686.05h2.1v2.1h-2.1zM773.99 686.05h2.1v2.1h-2.1zM790.03 686.05h2.1v2.1h-2.1zM798.05 686.05h2.1v2.1h-2.1zM806.07 686.05h2.1v2.1h-2.1zM814.09 686.05h2.1v2.1h-2.1zM830.13 686.05h2.1v2.1h-2.1zM838.15 686.05h2.1v2.1h-2.1zM846.17 686.05h2.1v2.1h-2.1zM854.19 686.05h2.1v2.1h-2.1zM870.23 686.05h2.1v2.1h-2.1zM878.25 686.05h2.1v2.1h-2.1zM886.27 686.05h2.1v2.1h-2.1zM894.29 686.05h2.1v2.1h-2.1zM910.33 686.05h2.1v2.1h-2.1zM918.35 686.05h2.1v2.1h-2.1zM926.37 686.05h2.1v2.1h-2.1zM934.39 686.05h2.1v2.1h-2.1zM950.43 686.05h2.1v2.1h-2.1zM958.45 686.05h2.1v2.1h-2.1zM966.47 686.05h2.1v2.1h-2.1zM974.49 686.05h2.1v2.1h-2.1zM990.53 686.05h2.1v2.1h-2.1zM1006.57 686.05h2.1v2.1h-2.1zM1014.59 686.05h2.1v2.1h-2.1zM1030.63 686.05h2.1v2.1h-2.1zM1046.67 686.05h2.1v2.1h-2.1zM1054.69 686.05h2.1v2.1h-2.1zM1062.71 686.05h2.1v2.1h-2.1zM1070.73 686.05h2.1v2.1h-2.1zM1086.77 686.05h2.1v2.1h-2.1z"/>
<rect x="900.6" y="103" width="175" height="137" fill="#fff"/>
<g stroke="#000" fill="none">
<line x1="227.2" y1="103" x2="227.2" y2="740.6" stroke-width="3.4"/>
<line x1="1091.4" y1="101.2" x2="1091.4" y2="740.6" stroke-width="3.8"/>
<line x1="225.5" y1="738.9" x2="1093.3" y2="738.9" stroke-width="3.6"/>
<line x1="228.9" y1="102.95" x2="900.6" y2="102.95" stroke-width="3.5"/>
<line x1="1077" y1="102.95" x2="1093.3" y2="102.95" stroke-width="3.5"/>
<line x1="900.6" y1="102.1" x2="1077" y2="102.1" stroke-width="1.9"/>
</g>
<g stroke="#000" stroke-width="2.6">
<line x1="228" y1="209.9" x2="240.8" y2="209.9"/>
<line x1="228" y1="315.0" x2="240.8" y2="315.0"/>
<line x1="228" y1="421.3" x2="240.8" y2="421.3"/>
<line x1="228" y1="526.5" x2="240.8" y2="526.5"/>
<line x1="228" y1="632.9" x2="240.8" y2="632.9"/>
<line x1="228" y1="155.8" x2="235.6" y2="155.8"/>
<line x1="228" y1="262.2" x2="235.6" y2="262.2"/>
<line x1="228" y1="368.6" x2="235.6" y2="368.6"/>
<line x1="228" y1="473.9" x2="235.6" y2="473.9"/>
<line x1="228" y1="580.3" x2="235.6" y2="580.3"/>
<line x1="228" y1="686.6" x2="235.6" y2="686.6"/>
<line x1="384" y1="738" x2="384" y2="726.8"/>
<line x1="541.5" y1="738" x2="541.5" y2="726.8"/>
<line x1="698.5" y1="738" x2="698.5" y2="726.8"/>
<line x1="855.5" y1="738" x2="855.5" y2="726.8"/>
<line x1="1012.9" y1="738" x2="1012.9" y2="726.8"/>
<line x1="305" y1="738" x2="305" y2="731.6"/>
<line x1="462.5" y1="738" x2="462.5" y2="731.6"/>
<line x1="620" y1="738" x2="620" y2="731.6"/>
<line x1="777" y1="738" x2="777" y2="731.6"/>
<line x1="934" y1="738" x2="934" y2="731.6"/>
</g>
<g font-weight="bold" fill="#000">
<text x="193.56" y="111.25" font-size="34.80" textLength="19.72" lengthAdjust="spacingAndGlyphs">6</text>
<text x="193.90" y="217.85" font-size="34.80" textLength="18.46" lengthAdjust="spacingAndGlyphs">5</text>
<text x="193.17" y="324.70" font-size="34.80" textLength="19.60" lengthAdjust="spacingAndGlyphs">4</text>
<text x="194.06" y="429.25" font-size="34.80" textLength="18.65" lengthAdjust="spacingAndGlyphs">3</text>
<text x="193.74" y="536.10" font-size="34.80" textLength="19.18" lengthAdjust="spacingAndGlyphs">2</text>
<text x="194.38" y="641.00" font-size="34.80" textLength="14.71" lengthAdjust="spacingAndGlyphs">1</text>
<text x="193.35" y="746.65" font-size="34.80" textLength="20.14" lengthAdjust="spacingAndGlyphs">0</text>
<text x="216.53" y="778.40" font-size="34.80" textLength="19.09" lengthAdjust="spacingAndGlyphs">0</text>
<text x="358.10" y="782.35" font-size="34.80" textLength="51.99" lengthAdjust="spacingAndGlyphs">0.4</text>
<text x="701.92" y="782.90" font-size="34.80" textLength="50.95" lengthAdjust="spacingAndGlyphs">1.2</text>
<text x="1005.82" y="782.55" font-size="34.80" textLength="50.99" lengthAdjust="spacingAndGlyphs">1.8</text>
<text x="986.45" y="139.75" font-size="34.80" textLength="38.29" lengthAdjust="spacingAndGlyphs">75</text>
<text x="986.81" y="182.85" font-size="34.80" textLength="37.93" lengthAdjust="spacingAndGlyphs">65</text>
<text x="986.98" y="226.65" font-size="34.80" textLength="37.75" lengthAdjust="spacingAndGlyphs">55</text>
<text x="1045.71" y="139.75" font-size="34.80" textLength="23.37" lengthAdjust="spacingAndGlyphs">C</text>
<text x="1045.69" y="182.85" font-size="34.80" textLength="23.71" lengthAdjust="spacingAndGlyphs">C</text>
<text x="1045.63" y="226.65" font-size="34.80" textLength="24.81" lengthAdjust="spacingAndGlyphs">C</text>
</g>
<g fill="none" stroke="#000" stroke-width="2.7">
<ellipse cx="1041.3" cy="123.2" rx="4.3" ry="3.7"/>
<ellipse cx="1041.3" cy="166.3" rx="4.3" ry="3.7"/>
<ellipse cx="1041.3" cy="210.1" rx="4.3" ry="3.7"/>
</g>
<g transform="translate(169.9,649.8) rotate(-90)" font-weight="bold" fill="#000" stroke="#fff" stroke-width="0.6"><text x="-3.17" y="-0.20" font-size="50.0" textLength="105.81" lengthAdjust="spacingAndGlyphs">Etch</text><text x="117.86" y="-0.30" font-size="50.0" textLength="98.04" lengthAdjust="spacingAndGlyphs">Rate</text><text x="234.10" y="-3.00" font-size="45.0" textLength="14.63" lengthAdjust="spacingAndGlyphs">(</text><text x="249.47" y="-3.00" font-size="46.0" textLength="32.55" lengthAdjust="spacingAndGlyphs">A</text><text x="298.05" y="-2.20" font-size="46.5" textLength="75.21" lengthAdjust="spacingAndGlyphs">min</text><text x="374.09" y="-3.00" font-size="45.0" textLength="14.27" lengthAdjust="spacingAndGlyphs">)</text></g>
<line x1="136.2" y1="353.7" x2="165.4" y2="364.0" stroke="#000" stroke-width="4.4"/>
<circle cx="127.2" cy="383.3" r="3.0" fill="none" stroke="#000" stroke-width="2.2"/>
<g font-weight="bold" fill="#000">
<text x="371.61" y="852.30" font-size="49.71" textLength="35.44" lengthAdjust="spacingAndGlyphs">H</text>
<text x="406.68" y="871.90" font-size="30.14" textLength="16.22" lengthAdjust="spacingAndGlyphs">2</text>
<text x="422.06" y="852.40" font-size="50.14" textLength="37.72" lengthAdjust="spacingAndGlyphs">O</text>
<text x="460.52" y="871.90" font-size="30.14" textLength="17.15" lengthAdjust="spacingAndGlyphs">2</text>
<text x="488.97" y="852.20" font-size="49.70" textLength="458.03" lengthAdjust="spacingAndGlyphs">Concentration (mol)</text>
</g>
<g fill="#1a1a1a">
<text x="146.73" y="949.80" font-size="30.00" textLength="83.99" lengthAdjust="spacingAndGlyphs">Figure</text>
<text x="236.10" y="949.80" font-size="30.00" textLength="26.71" lengthAdjust="spacingAndGlyphs">1.</text>
<text x="268.69" y="949.80" font-size="30.00" textLength="85.52" lengthAdjust="spacingAndGlyphs">Silicon</text>
<text x="361.84" y="949.80" font-size="30.00" textLength="57.13" lengthAdjust="spacingAndGlyphs">etch</text>
<text x="426.19" y="949.80" font-size="30.00" textLength="53.30" lengthAdjust="spacingAndGlyphs">rate</text>
<text x="483.95" y="949.80" font-size="30.00" textLength="25.70" lengthAdjust="spacingAndGlyphs">in</text>
<text x="518.46" y="949.80" font-size="30.00" textLength="49.11" lengthAdjust="spacingAndGlyphs">SC1</text>
<text x="573.55" y="949.80" font-size="30.00" textLength="108.76" lengthAdjust="spacingAndGlyphs">solution</text>
<text x="689.14" y="949.80" font-size="30.00" textLength="29.68" lengthAdjust="spacingAndGlyphs">as</text>
<text x="724.85" y="949.80" font-size="30.00" textLength="14.18" lengthAdjust="spacingAndGlyphs">a</text>
<text x="747.82" y="949.80" font-size="30.00" textLength="111.32" lengthAdjust="spacingAndGlyphs">function</text>
<text x="866.18" y="949.80" font-size="30.00" textLength="27.54" lengthAdjust="spacingAndGlyphs">of</text>
<text x="901.01" y="949.80" font-size="30.00" textLength="20.63" lengthAdjust="spacingAndGlyphs">H</text>
<text x="932.79" y="949.80" font-size="30.00" textLength="22.60" lengthAdjust="spacingAndGlyphs">O</text>
<text x="972.35" y="949.80" font-size="30.00" textLength="187.15" lengthAdjust="spacingAndGlyphs">concentration</text>
<text x="921.54" y="957.50" font-size="19.30" textLength="10.70" lengthAdjust="spacingAndGlyphs">2</text>
<text x="955.29" y="957.50" font-size="19.30" textLength="10.70" lengthAdjust="spacingAndGlyphs">2</text>
</g>
<path d="M306.30,121.51 C307.31,123.19 310.33,128.35 312.34,131.64 C314.36,134.93 316.37,138.12 318.39,141.23 C320.40,144.34 322.42,147.35 324.43,150.29 C326.45,153.23 328.46,156.07 330.48,158.85 C332.49,161.62 334.51,164.31 336.52,166.92 C338.54,169.54 340.55,172.07 342.57,174.54 C344.58,177.01 346.60,179.39 348.61,181.72 C350.63,184.04 352.64,186.30 354.66,188.49 C356.67,190.68 358.69,192.80 360.70,194.87 C362.71,196.93 364.73,198.93 366.74,200.88 C368.76,202.82 370.77,204.71 372.79,206.54 C374.80,208.38 376.82,210.15 378.83,211.89 C380.85,213.62 382.86,215.29 384.88,216.93 C386.89,218.56 388.91,220.15 390.92,221.70 C392.94,223.24 394.95,224.74 396.97,226.21 C398.98,227.68 401.00,229.10 403.01,230.49 C405.03,231.89 407.04,233.24 409.06,234.57 C411.07,235.90 413.09,237.19 415.10,238.46 C417.11,239.73 419.13,240.96 421.14,242.18 C423.16,243.40 425.17,244.59 427.19,245.77 C429.20,246.95 431.22,248.10 433.23,249.24 C435.25,250.38 437.26,251.50 439.28,252.61 C441.29,253.72 443.31,254.82 445.32,255.91 C447.34,256.99 449.35,258.07 451.37,259.13 C453.38,260.19 455.40,261.24 457.41,262.27 C459.43,263.31 461.44,264.33 463.46,265.35 C465.47,266.36 467.49,267.36 469.50,268.35 C471.51,269.34 473.53,270.32 475.54,271.29 C477.56,272.26 479.57,273.21 481.59,274.16 C483.60,275.11 485.62,276.05 487.63,276.97 C489.65,277.90 491.66,278.81 493.68,279.72 C495.69,280.63 497.71,281.52 499.72,282.41 C501.74,283.30 503.75,284.18 505.77,285.05 C507.78,285.91 509.80,286.77 511.81,287.62 C513.83,288.48 515.84,289.32 517.86,290.15 C519.87,290.99 521.89,291.81 523.90,292.63 C525.91,293.45 527.93,294.26 529.94,295.06 C531.96,295.86 533.97,296.65 535.99,297.44 C538.00,298.23 540.02,299.01 542.03,299.78 C544.05,300.55 546.06,301.32 548.08,302.08 C550.09,302.84 552.11,303.59 554.12,304.34 C556.14,305.09 558.15,305.83 560.17,306.56 C562.18,307.30 564.20,308.02 566.21,308.75 C568.23,309.47 570.24,310.19 572.26,310.90 C574.27,311.61 576.29,312.32 578.30,313.02 C580.31,313.73 582.33,314.42 584.34,315.12 C586.36,315.81 588.37,316.50 590.39,317.19 C592.40,317.87 594.42,318.55 596.43,319.23 C598.45,319.91 600.46,320.58 602.48,321.25 C604.49,321.92 606.51,322.59 608.52,323.25 C610.54,323.92 612.55,324.58 614.57,325.23 C616.58,325.89 618.60,326.55 620.61,327.20 C622.63,327.86 624.64,328.51 626.66,329.16 C628.67,329.80 630.69,330.45 632.70,331.10 C634.71,331.74 636.73,332.39 638.74,333.03 C640.76,333.67 642.77,334.31 644.79,334.95 C646.80,335.60 648.82,336.24 650.83,336.87 C652.85,337.51 654.86,338.15 656.88,338.79 C658.89,339.43 660.91,340.06 662.92,340.70 C664.94,341.33 666.95,341.97 668.97,342.60 C670.98,343.23 673.00,343.87 675.01,344.50 C677.03,345.13 679.04,345.76 681.06,346.39 C683.07,347.02 685.09,347.65 687.10,348.28 C689.11,348.90 691.13,349.53 693.14,350.16 C695.16,350.78 697.17,351.41 699.19,352.03 C701.20,352.66 703.22,353.28 705.23,353.90 C707.25,354.53 709.26,355.15 711.28,355.77 C713.29,356.39 715.31,357.01 717.32,357.63 C719.34,358.25 721.35,358.87 723.37,359.48 C725.38,360.10 727.40,360.72 729.41,361.33 C731.43,361.95 733.44,362.56 735.46,363.17 C737.47,363.79 739.49,364.40 741.50,365.01 C743.51,365.62 745.53,366.24 747.54,366.85 C749.56,367.46 751.57,368.07 753.59,368.67 C755.60,369.28 757.62,369.89 759.63,370.50 C761.65,371.10 763.66,371.71 765.68,372.31 C767.69,372.92 769.71,373.52 771.72,374.12 C773.74,374.73 775.75,375.33 777.77,375.93 C779.78,376.53 781.80,377.13 783.81,377.73 C785.83,378.33 787.84,378.93 789.86,379.53 C791.87,380.13 793.89,380.72 795.90,381.32 C797.91,381.91 799.93,382.51 801.94,383.10 C803.96,383.70 805.97,384.29 807.99,384.88 C810.00,385.48 812.02,386.07 814.03,386.66 C816.05,387.25 818.06,387.84 820.08,388.43 C822.09,389.02 824.11,389.61 826.12,390.19 C828.14,390.78 830.15,391.37 832.17,391.95 C834.18,392.54 836.20,393.12 838.21,393.71 C840.23,394.29 842.24,394.87 844.26,395.45 C846.27,396.04 848.29,396.62 850.30,397.20 C852.31,397.78 854.33,398.36 856.34,398.94 C858.36,399.52 860.37,400.09 862.39,400.67 C864.40,401.25 866.42,401.82 868.43,402.40 C870.45,402.97 872.46,403.55 874.48,404.12 C876.49,404.70 878.51,405.27 880.52,405.84 C882.54,406.41 884.55,406.98 886.57,407.55 C888.58,408.12 890.60,408.69 892.61,409.26 C894.63,409.83 896.64,410.40 898.66,410.97 C900.67,411.53 902.69,412.10 904.70,412.66 C906.71,413.23 908.73,413.79 910.74,414.36 C912.76,414.92 914.77,415.48 916.79,416.04 C918.80,416.61 920.82,417.17 922.83,417.73 C924.85,418.29 926.86,418.85 928.88,419.40 C930.89,419.96 932.91,420.52 934.92,421.08 C936.94,421.63 938.95,422.19 940.97,422.75 C942.98,423.30 945.00,423.85 947.01,424.41 C949.03,424.96 951.04,425.51 953.06,426.07 C955.07,426.62 957.09,427.17 959.10,427.72 C961.11,428.27 963.13,428.82 965.14,429.37 C967.16,429.92 969.17,430.46 971.19,431.01 C973.20,431.56 975.22,432.10 977.23,432.65 C979.25,433.19 981.26,433.74 983.28,434.28 C985.29,434.82 987.31,435.37 989.32,435.91 C991.34,436.45 993.35,436.99 995.37,437.53 C997.38,438.07 999.40,438.61 1001.41,439.15 C1003.43,439.69 1005.44,440.23 1007.46,440.76 C1009.47,441.30 1012.49,442.10 1013.50,442.37" fill="none" stroke="#ff0000" stroke-width="1.6" stroke-linejoin="round"/>
<path d="M304.75,403.87 C305.75,405.02 308.77,408.52 310.78,410.77 C312.79,413.02 314.80,415.21 316.81,417.36 C318.82,419.51 320.83,421.61 322.84,423.66 C324.85,425.71 326.86,427.72 328.87,429.68 C330.88,431.63 332.88,433.54 334.89,435.41 C336.90,437.28 338.91,439.10 340.92,440.88 C342.93,442.66 344.94,444.39 346.95,446.08 C348.96,447.78 350.97,449.42 352.98,451.04 C354.99,452.65 357.00,454.21 359.01,455.74 C361.02,457.27 363.03,458.76 365.04,460.22 C367.05,461.67 369.06,463.09 371.07,464.46 C373.08,465.84 375.09,467.19 377.10,468.49 C379.11,469.80 381.12,471.07 383.12,472.31 C385.13,473.55 387.14,474.76 389.15,475.93 C391.16,477.10 393.17,478.24 395.18,479.35 C397.19,480.47 399.20,481.54 401.21,482.60 C403.22,483.65 405.23,484.67 407.24,485.66 C409.25,486.65 411.26,487.62 413.27,488.56 C415.28,489.50 417.29,490.41 419.30,491.30 C421.31,492.19 423.32,493.05 425.33,493.89 C427.34,494.73 429.35,495.54 431.36,496.34 C433.37,497.13 435.38,497.90 437.38,498.65 C439.39,499.40 441.40,500.13 443.41,500.84 C445.42,501.55 447.43,502.24 449.44,502.92 C451.45,503.59 453.46,504.25 455.47,504.88 C457.48,505.52 459.49,506.15 461.50,506.75 C463.51,507.36 465.52,507.95 467.53,508.53 C469.54,509.11 471.55,509.68 473.56,510.23 C475.57,510.78 477.58,511.32 479.59,511.85 C481.60,512.38 483.61,512.90 485.62,513.41 C487.62,513.92 489.63,514.42 491.64,514.91 C493.65,515.41 495.66,515.89 497.67,516.37 C499.68,516.85 501.69,517.32 503.70,517.79 C505.71,518.25 507.72,518.71 509.73,519.17 C511.74,519.63 513.75,520.08 515.76,520.54 C517.77,520.99 519.78,521.44 521.79,521.89 C523.80,522.34 525.81,522.78 527.82,523.23 C529.83,523.68 531.84,524.13 533.85,524.58 C535.86,525.02 537.87,525.47 539.88,525.92 C541.88,526.36 543.89,526.81 545.90,527.26 C547.91,527.70 549.92,528.15 551.93,528.59 C553.94,529.03 555.95,529.48 557.96,529.92 C559.97,530.36 561.98,530.80 563.99,531.24 C566.00,531.68 568.01,532.12 570.02,532.55 C572.03,532.99 574.04,533.42 576.05,533.86 C578.06,534.29 580.07,534.72 582.08,535.15 C584.09,535.58 586.10,536.01 588.11,536.43 C590.12,536.86 592.13,537.28 594.13,537.70 C596.14,538.12 598.15,538.54 600.16,538.95 C602.17,539.37 604.18,539.78 606.19,540.19 C608.20,540.60 610.21,541.01 612.22,541.42 C614.23,541.82 616.24,542.22 618.25,542.62 C620.26,543.02 622.27,543.41 624.28,543.81 C626.29,544.20 628.30,544.59 630.31,544.97 C632.32,545.36 634.33,545.74 636.34,546.12 C638.35,546.49 640.36,546.87 642.37,547.24 C644.38,547.61 646.38,547.97 648.39,548.33 C650.40,548.70 652.41,549.05 654.42,549.41 C656.43,549.76 658.44,550.11 660.45,550.45 C662.46,550.80 664.47,551.14 666.48,551.47 C668.49,551.81 670.50,552.14 672.51,552.46 C674.52,552.79 676.53,553.11 678.54,553.42 C680.55,553.74 682.56,554.05 684.57,554.35 C686.58,554.66 688.59,554.96 690.60,555.25 C692.61,555.55 694.62,555.83 696.62,556.12 C698.63,556.40 700.64,556.68 702.65,556.95 C704.66,557.22 706.67,557.48 708.68,557.74 C710.69,558.00 712.70,558.25 714.71,558.50 C716.72,558.74 718.73,558.98 720.74,559.22 C722.75,559.45 724.76,559.68 726.77,559.90 C728.78,560.12 730.79,560.33 732.80,560.53 C734.81,560.74 736.82,560.94 738.83,561.13 C740.84,561.32 742.85,561.51 744.86,561.68 C746.87,561.86 748.88,562.03 750.88,562.19 C752.89,562.36 754.90,562.51 756.91,562.66 C758.92,562.81 760.93,562.95 762.94,563.08 C764.95,563.21 766.96,563.33 768.97,563.45 C770.98,563.56 768.16,563.61 775.00,563.77 C781.84,563.93 792.50,564.23 810.00,564.40 C827.50,564.57 846.12,564.70 880.00,564.80 C913.88,564.90 991.08,564.97 1013.30,565.00" fill="none" stroke="#0000ff" stroke-width="1.6" stroke-linejoin="round"/>
<g fill="none" stroke="#00ff00" stroke-width="1.6">
<path d="M320.00,620.00 C328.85,623.33 364.25,636.67 373.10,640.00"/>
<path d="M398.75,646.71 C399.76,646.96 402.80,647.73 404.82,648.22 C406.85,648.71 408.87,649.18 410.90,649.65 C412.92,650.11 414.95,650.56 416.97,650.99 C418.99,651.43 421.02,651.85 423.04,652.26 C425.07,652.67 427.09,653.07 429.12,653.46 C431.14,653.84 433.17,654.22 435.19,654.58 C437.21,654.94 439.24,655.29 441.26,655.63 C443.29,655.97 445.31,656.29 447.34,656.61 C449.36,656.93 451.39,657.23 453.41,657.53 C455.44,657.82 457.46,658.10 459.48,658.38 C461.51,658.65 463.53,658.91 465.56,659.17 C467.58,659.42 469.61,659.66 471.63,659.90 C473.66,660.13 475.68,660.35 477.70,660.57 C479.73,660.78 481.75,660.99 483.78,661.18 C485.80,661.38 487.83,661.57 489.85,661.75 C491.88,661.93 493.90,662.10 495.92,662.26 C497.95,662.42 499.97,662.58 502.00,662.72 C504.02,662.87 506.05,663.01 508.07,663.14 C510.10,663.27 512.12,663.40 514.14,663.51 C516.17,663.63 518.19,663.74 520.22,663.84 C522.24,663.95 524.27,664.04 526.29,664.13 C528.32,664.22 530.34,664.31 532.36,664.39 C534.39,664.46 536.41,664.54 538.44,664.60 C540.46,664.67 542.49,664.73 544.51,664.79 C546.54,664.84 548.56,664.89 550.59,664.94 C552.61,664.99 554.63,665.03 556.66,665.06 C558.68,665.10 560.71,665.13 562.73,665.16 C564.76,665.19 566.78,665.21 568.81,665.23 C570.83,665.25 572.85,665.27 574.88,665.28 C576.90,665.30 578.93,665.31 580.95,665.31 C582.98,665.32 585.00,665.32 587.03,665.33 C589.05,665.33 591.07,665.32 593.10,665.32 C595.12,665.32 597.15,665.31 599.17,665.30 C601.20,665.30 603.22,665.29 605.25,665.28 C607.27,665.27 609.29,665.25 611.32,665.24 C613.34,665.22 615.37,665.21 617.39,665.19 C619.42,665.18 621.44,665.16 623.47,665.15 C625.49,665.13 627.51,665.11 629.54,665.09 C631.56,665.08 633.59,665.06 635.61,665.04 C637.64,665.02 639.66,665.01 641.69,664.99 C643.71,664.98 645.74,664.96 647.76,664.95 C649.78,664.93 651.81,664.92 653.83,664.91 C655.86,664.90 657.88,664.88 659.91,664.88 C661.93,664.87 663.96,664.86 665.98,664.86 C668.00,664.85 670.03,664.85 672.05,664.85 C674.08,664.85 676.10,664.85 678.13,664.86 C680.15,664.86 683.19,664.88 684.20,664.88"/>
<path d="M712.70,664.60 C720.58,664.57 742.45,664.40 760.00,664.40 C777.55,664.40 800.88,664.13 818.00,664.60 C835.12,665.07 847.80,666.40 862.70,667.20 C877.60,668.00 893.65,668.75 907.40,669.40 C921.15,670.05 930.02,670.43 945.20,671.10 C960.38,671.77 989.62,673.02 998.50,673.40"/>
</g>
<g stroke="#ff0000" stroke-width="2" fill="none">
<line x1="699" y1="339.8" x2="699" y2="350"/>
<line x1="691.9" y1="339.8" x2="705.6" y2="339.8"/>
<line x1="699" y1="367.5" x2="699" y2="372.8"/>
<line x1="691.9" y1="372.8" x2="705.6" y2="372.8"/>
<line x1="306.3" y1="127" x2="306.3" y2="130.6"/>
<line x1="299" y1="119.2" x2="313" y2="119.2"/>
<line x1="385" y1="252" x2="385" y2="256.4"/>
<line x1="377.2" y1="241.5" x2="391.1" y2="241.5"/>
<line x1="1013.5" y1="448" x2="1013.5" y2="450.5"/>
<line x1="1005.8" y1="437.3" x2="1019.5" y2="437.3"/>
</g>
<g fill="#ff0000">
<polygon points="306.3,109.8 296.7,127.1 315.9,127.1"/>
<polygon points="385,235.6 375.4,252.75 394.4,252.75"/>
<polygon points="699,346.5 689.8,362.9 708.6,362.9"/>
<polygon points="1013.5,431.9 1004.3,448.2 1022.7,448.2"/>
</g>
<g fill="#0000ff">
<circle cx="304.75" cy="404" r="7.8"/>
<circle cx="384.75" cy="482.6" r="7.8"/>
<circle cx="463.5" cy="510.6" r="7.8"/>
<circle cx="619" cy="540.6" r="7.8"/>
<circle cx="699.3" cy="565" r="7.8"/>
<circle cx="1013.3" cy="565" r="7.8"/>
</g>
<g fill="#00ff00">
<rect x="298.5" y="608.1" width="14" height="13.4"/>
<rect x="377.25" y="636" width="13.75" height="11.75"/>
<rect x="691.3" y="656.7" width="14.2" height="13.8"/>
<rect x="1006" y="667.4" width="14" height="12.5"/>
</g>

<g stroke-width="2" fill="none">
<line x1="908" y1="129.9" x2="930" y2="129.9" stroke="#ff0000"/>
<line x1="955.6" y1="129.9" x2="977.8" y2="129.9" stroke="#ff0000"/>
<line x1="908" y1="173.7" x2="930" y2="173.7" stroke="#0000ff"/>
<line x1="955.6" y1="173.7" x2="977.8" y2="173.7" stroke="#0000ff"/>
<line x1="908" y1="217" x2="930" y2="217" stroke="#00ff00"/>
<line x1="955.6" y1="217" x2="977.8" y2="217" stroke="#00ff00"/>
</g>
<polygon points="943,118.7 933,136 953,136" fill="#ff0000"/>
<circle cx="942" cy="173.4" r="7.7" fill="#0000ff"/>
<rect x="936" y="209.8" width="14" height="13.4" fill="#00ff00"/>
</svg>
</body>
</html>
